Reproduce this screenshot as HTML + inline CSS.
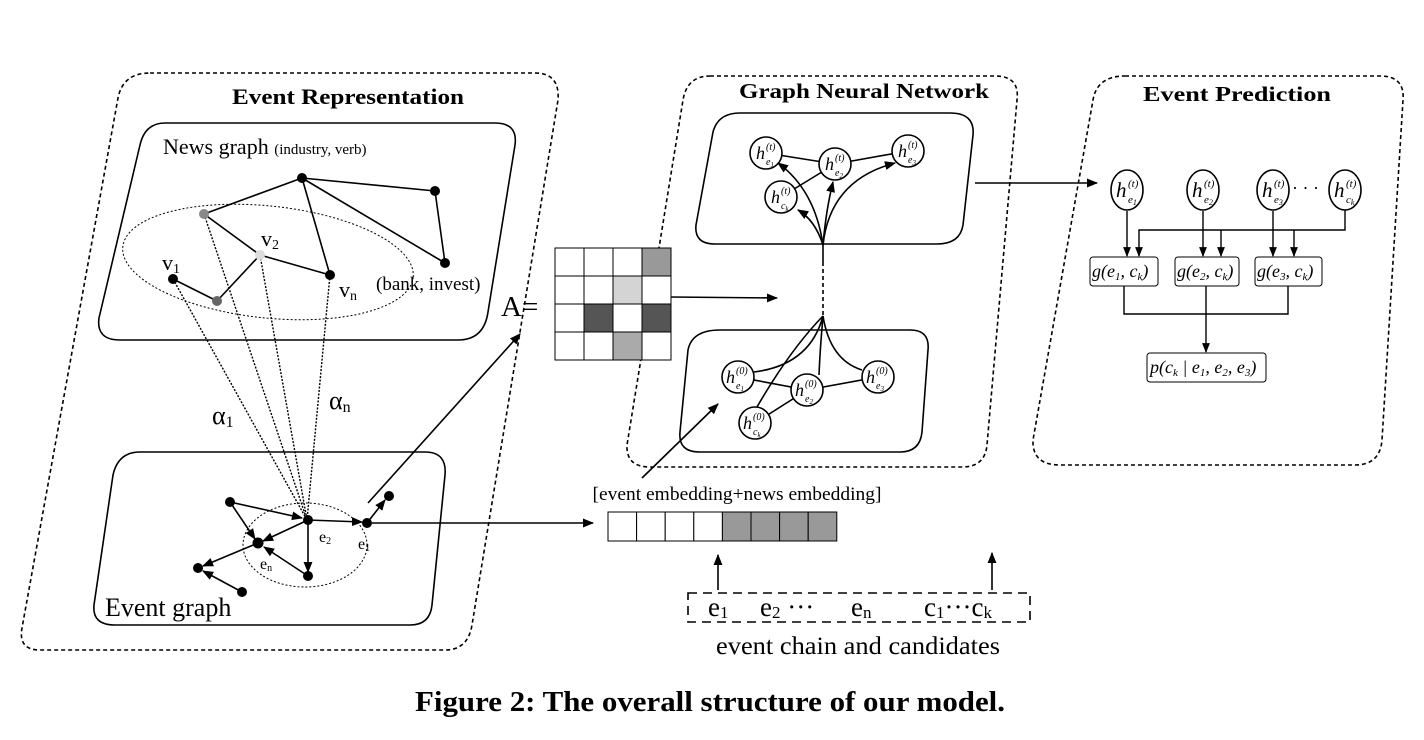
<!DOCTYPE html>
<html><head><meta charset="utf-8"><style>
html,body{margin:0;padding:0;background:#fff;}
svg{display:block;}
text{font-family:"Liberation Serif",serif;fill:#000;}
.m{font-style:italic;}
</style></head><body>
<svg width="1424" height="740" viewBox="0 0 1424 740" xmlns="http://www.w3.org/2000/svg">
<defs>
<marker id="ar" viewBox="0 0 10 10" refX="9" refY="5" markerWidth="7" markerHeight="7" orient="auto-start-reverse"><path d="M0,1 L10,5 L0,9 Z" fill="#000"/></marker>
</defs>
<g fill="none" stroke="#000">
<path d="M150,73 L535,73 Q560,73 558,100 L472,625 Q468,650 445,650 L40,650 Q18,650 22,628 L118,98 Q123,73 150,73 Z" stroke-width="1.6" stroke-dasharray="4,3"/>
<path d="M710,76 L995,76 Q1020,76 1017,100 L987,445 Q985,467 962,467 L650,467 Q626,467 627,445 L683,100 Q687,76 710,76 Z" stroke-width="1.6" stroke-dasharray="4,3"/>
<path d="M1125,76 L1380,76 Q1405,76 1403,100 L1382,440 Q1380,465 1355,465 L1060,465 Q1032,465 1033,440 L1093,100 Q1097,76 1125,76 Z" stroke-width="1.6" stroke-dasharray="4,3"/>
<path d="M165,123 L495,123 Q518,123 515,145 L488,312 Q484,340 458,340 L120,340 Q96,340 99,318 L140,145 Q145,123 165,123 Z" stroke-width="1.6"/>
<path d="M165,452 L425,452 Q447,452 445,475 L432,605 Q430,625 410,625 L115,625 Q92,625 94,605 L113,475 Q118,452 140,452 Z" stroke-width="1.6"/>
<path d="M740,113 L950,113 Q975,113 973,135 L963,225 Q960,244 937,244 L715,244 Q694,244 696,225 L713,132 Q718,113 740,113 Z" stroke-width="1.6"/>
<path d="M720,330 L910,330 Q930,330 928,350 L922,432 Q920,452 900,452 L700,452 Q678,452 680,432 L688,350 Q692,330 720,330 Z" stroke-width="1.6"/>

<ellipse cx="268" cy="262" rx="146" ry="56" transform="rotate(6 268 262)" stroke-width="1" stroke-dasharray="2,2"/>
<g stroke-width="1.6">
<line x1="302" y1="178" x2="435" y2="191"/><line x1="302" y1="178" x2="445" y2="263"/>
<line x1="435" y1="191" x2="445" y2="263"/><line x1="302" y1="178" x2="330" y2="275"/>
<line x1="302" y1="178" x2="204" y2="214"/><line x1="204" y1="214" x2="260" y2="255"/>
<line x1="260" y1="255" x2="330" y2="275"/><line x1="173" y1="279" x2="217" y2="301"/>
<line x1="217" y1="301" x2="260" y2="255"/>
</g>
<g stroke-width="1.4" stroke-dasharray="2,1.5">
<line x1="204" y1="214" x2="307" y2="520"/><line x1="173" y1="279" x2="307" y2="520"/>
<line x1="260" y1="255" x2="307" y2="520"/><line x1="330" y1="275" x2="307" y2="520"/>
</g>
<ellipse cx="305" cy="545" rx="62" ry="42" stroke-width="1" stroke-dasharray="2,2"/>
<g stroke-width="1.6">
<line x1="230" y1="502" x2="302" y2="518" marker-end="url(#ar)"/>
<line x1="230" y1="502" x2="255" y2="539" marker-end="url(#ar)"/>
<line x1="308" y1="520" x2="263" y2="541" marker-end="url(#ar)"/>
<line x1="308" y1="520" x2="308" y2="572" marker-end="url(#ar)"/>
<line x1="308" y1="576" x2="264" y2="547" marker-end="url(#ar)"/>
<line x1="258" y1="543" x2="203" y2="566" marker-end="url(#ar)"/>
<line x1="242" y1="592" x2="203" y2="571" marker-end="url(#ar)"/>
<line x1="308" y1="520" x2="362" y2="522" marker-end="url(#ar)"/>
<line x1="367" y1="523" x2="385" y2="500" marker-end="url(#ar)"/>
<line x1="368" y1="503" x2="520" y2="334" marker-end="url(#ar)"/>
<line x1="372" y1="523" x2="593" y2="523" marker-end="url(#ar)"/>
<line x1="670" y1="297" x2="777" y2="298" marker-end="url(#ar)"/>
<line x1="642" y1="478" x2="718" y2="404" marker-end="url(#ar)"/>
<line x1="718" y1="590" x2="718" y2="555" marker-end="url(#ar)"/>
<line x1="992" y1="590" x2="992" y2="553" marker-end="url(#ar)"/>
<line x1="975" y1="183" x2="1097" y2="183" marker-end="url(#ar)"/>
</g>
</g>
<g fill="#000">
<circle cx="302" cy="178" r="5"/><circle cx="435" cy="191" r="5"/><circle cx="445" cy="263" r="5"/>
<circle cx="330" cy="275" r="5"/><circle cx="173" cy="279" r="5"/>
<circle cx="204" cy="214" r="5" fill="#888"/><circle cx="260" cy="255" r="5" fill="#ddd"/><circle cx="217" cy="301" r="5" fill="#666"/>
<circle cx="308" cy="520" r="5"/><circle cx="367" cy="523" r="5"/><circle cx="389" cy="496" r="5"/>
<circle cx="230" cy="502" r="5"/><circle cx="258" cy="543" r="5.5"/><circle cx="308" cy="576" r="5"/>
<circle cx="198" cy="568" r="5"/><circle cx="242" cy="592" r="5"/>
</g>
<g stroke="#000" stroke-width="1">
<rect x="555" y="248" width="29" height="28" fill="#fff"/><rect x="584" y="248" width="29" height="28" fill="#fff"/><rect x="613" y="248" width="29" height="28" fill="#fff"/><rect x="642" y="248" width="29" height="28" fill="#999"/>
<rect x="555" y="276" width="29" height="28" fill="#fff"/><rect x="584" y="276" width="29" height="28" fill="#fff"/><rect x="613" y="276" width="29" height="28" fill="#d4d4d4"/><rect x="642" y="276" width="29" height="28" fill="#fff"/>
<rect x="555" y="304" width="29" height="28" fill="#fff"/><rect x="584" y="304" width="29" height="28" fill="#555"/><rect x="613" y="304" width="29" height="28" fill="#fff"/><rect x="642" y="304" width="29" height="28" fill="#555"/>
<rect x="555" y="332" width="29" height="28" fill="#fff"/><rect x="584" y="332" width="29" height="28" fill="#fff"/><rect x="613" y="332" width="29" height="28" fill="#aaa"/><rect x="642" y="332" width="29" height="28" fill="#fff"/>
</g>
<g stroke="#000" stroke-width="1">
<rect x="608" y="512" width="28.6" height="29" fill="#fff"/><rect x="636.6" y="512" width="28.6" height="29" fill="#fff"/><rect x="665.2" y="512" width="28.6" height="29" fill="#fff"/><rect x="693.8" y="512" width="28.6" height="29" fill="#fff"/>
<rect x="722.4" y="512" width="28.6" height="29" fill="#999"/><rect x="751" y="512" width="28.6" height="29" fill="#999"/><rect x="779.6" y="512" width="28.6" height="29" fill="#999"/><rect x="808.2" y="512" width="28.6" height="29" fill="#999"/>
<rect x="688" y="593" width="342" height="29" fill="none" stroke-width="1.6" stroke-dasharray="9,6"/>
</g>
<g fill="none" stroke="#000" stroke-width="1.6">
<line x1="766" y1="153" x2="835" y2="164"/><line x1="835" y1="164" x2="908" y2="151"/><line x1="781" y1="197" x2="835" y2="164"/>
<path d="M823,245 Q815,190 778,163" marker-end="url(#ar)"/>
<path d="M823,245 Q815,220 798,210" marker-end="url(#ar)"/>
<path d="M823,245 Q826,210 833,182" marker-end="url(#ar)"/>
<path d="M823,245 Q830,180 895,163" marker-end="url(#ar)"/>
<line x1="823" y1="245" x2="823" y2="262"/>
<line x1="823" y1="262" x2="823" y2="316" stroke-dasharray="4,3"/>
<line x1="738" y1="377" x2="807" y2="390"/><line x1="807" y1="390" x2="878" y2="377"/><line x1="755" y1="423" x2="807" y2="390"/>
<path d="M823,316 Q810,365 754,372"/>
<path d="M823,316 Q820,350 819,375"/>
<path d="M823,316 Q790,350 757,407"/>
<path d="M823,316 Q830,360 862,370"/>
<g stroke-width="1.4">
<line x1="1127" y1="211" x2="1127" y2="256" marker-end="url(#ar)"/>
<line x1="1203" y1="211" x2="1203" y2="256" marker-end="url(#ar)"/>
<line x1="1273" y1="211" x2="1273" y2="256" marker-end="url(#ar)"/>
<polyline points="1345,208 1345,230 1139,230 1139,256" marker-end="url(#ar)"/>
<line x1="1221" y1="230" x2="1221" y2="256" marker-end="url(#ar)"/>
<line x1="1294" y1="230" x2="1294" y2="256" marker-end="url(#ar)"/>
<polyline points="1124,286 1124,314 1288,314 1288,286"/>
<line x1="1206" y1="286" x2="1206" y2="352" marker-end="url(#ar)"/>
</g>
<g stroke-width="1">
<rect x="1090" y="257" width="68" height="29" rx="3"/><rect x="1175" y="257" width="64" height="29" rx="3"/><rect x="1255" y="257" width="67" height="29" rx="3"/>
<rect x="1147" y="353" width="119" height="29" rx="3"/>
</g>
</g>
<g fill="#fff" stroke="#000" stroke-width="1.6">
<circle cx="766" cy="153" r="16"/><circle cx="835" cy="164" r="16"/><circle cx="908" cy="151" r="16"/><circle cx="781" cy="197" r="16"/>
<circle cx="738" cy="377" r="16"/><circle cx="807" cy="390" r="16"/><circle cx="878" cy="377" r="16"/><circle cx="755" cy="423" r="16"/>
<ellipse cx="1127" cy="190" rx="16" ry="20"/><ellipse cx="1203" cy="190" rx="16" ry="20"/><ellipse cx="1273" cy="190" rx="16" ry="20"/><ellipse cx="1345" cy="190" rx="16" ry="20"/>
</g>
<g font-size="18">
<text x="756" y="159" class="m">h</text><text x="766" y="150" font-size="10" class="m">(t)</text><text x="766" y="165" font-size="10" class="m">e<tspan font-size="7" dy="2">1</tspan></text>
<text x="825" y="170" class="m">h</text><text x="835" y="161" font-size="10" class="m">(t)</text><text x="835" y="176" font-size="10" class="m">e<tspan font-size="7" dy="2">2</tspan></text>
<text x="898" y="157" class="m">h</text><text x="908" y="148" font-size="10" class="m">(t)</text><text x="908" y="163" font-size="10" class="m">e<tspan font-size="7" dy="2">3</tspan></text>
<text x="771" y="203" class="m">h</text><text x="781" y="194" font-size="10" class="m">(t)</text><text x="781" y="209" font-size="10" class="m">c<tspan font-size="7" dy="2">k</tspan></text>
<text x="726" y="383" class="m">h</text><text x="736" y="374" font-size="10" class="m">(0)</text><text x="736" y="389" font-size="10" class="m">e<tspan font-size="7" dy="2">1</tspan></text>
<text x="795" y="396" class="m">h</text><text x="805" y="387" font-size="10" class="m">(0)</text><text x="805" y="402" font-size="10" class="m">e<tspan font-size="7" dy="2">2</tspan></text>
<text x="866" y="383" class="m">h</text><text x="876" y="374" font-size="10" class="m">(0)</text><text x="876" y="389" font-size="10" class="m">e<tspan font-size="7" dy="2">3</tspan></text>
<text x="743" y="429" class="m">h</text><text x="753" y="420" font-size="10" class="m">(0)</text><text x="753" y="435" font-size="10" class="m">c<tspan font-size="7" dy="2">k</tspan></text>
<text x="1116" y="197" class="m" font-size="21">h</text><text x="1128" y="187" font-size="11" class="m">(t)</text><text x="1128" y="203" font-size="11" class="m">e<tspan font-size="8" dy="2">1</tspan></text>
<text x="1192" y="197" class="m" font-size="21">h</text><text x="1204" y="187" font-size="11" class="m">(t)</text><text x="1204" y="203" font-size="11" class="m">e<tspan font-size="8" dy="2">2</tspan></text>
<text x="1262" y="197" class="m" font-size="21">h</text><text x="1274" y="187" font-size="11" class="m">(t)</text><text x="1274" y="203" font-size="11" class="m">e<tspan font-size="8" dy="2">3</tspan></text>
<text x="1334" y="197" class="m" font-size="21">h</text><text x="1346" y="187" font-size="11" class="m">(t)</text><text x="1346" y="203" font-size="11" class="m">c<tspan font-size="8" dy="2">k</tspan></text>
</g>
<text x="1292" y="194" font-size="18">· · ·</text>
<g font-size="18">
<text x="1092" y="277" class="m">g(e<tspan font-size="11" dy="3">1</tspan><tspan dy="-3">, c</tspan><tspan font-size="11" dy="3">k</tspan><tspan dy="-3">)</tspan></text>
<text x="1177" y="277" class="m">g(e<tspan font-size="11" dy="3">2</tspan><tspan dy="-3">, c</tspan><tspan font-size="11" dy="3">k</tspan><tspan dy="-3">)</tspan></text>
<text x="1257" y="277" class="m">g(e<tspan font-size="11" dy="3">3</tspan><tspan dy="-3">, c</tspan><tspan font-size="11" dy="3">k</tspan><tspan dy="-3">)</tspan></text>
<text x="1150" y="373" class="m">p(c<tspan font-size="11" dy="3">k</tspan><tspan dy="-3"> | e</tspan><tspan font-size="11" dy="3">1</tspan><tspan dy="-3">, e</tspan><tspan font-size="11" dy="3">2</tspan><tspan dy="-3">, e</tspan><tspan font-size="11" dy="3">3</tspan><tspan dy="-3">)</tspan></text>
</g>
<text x="348" y="104" font-size="22" font-weight="bold" text-anchor="middle" textLength="232" lengthAdjust="spacingAndGlyphs">Event Representation</text>
<text x="864" y="98" font-size="21" font-weight="bold" text-anchor="middle" textLength="250" lengthAdjust="spacingAndGlyphs">Graph Neural Network</text>
<text x="1237" y="101" font-size="21" font-weight="bold" text-anchor="middle" textLength="188" lengthAdjust="spacingAndGlyphs">Event Prediction</text>
<text x="163" y="154" font-size="22">News graph <tspan font-size="15">(industry, verb)</tspan></text>
<text x="376" y="290" font-size="19">(bank, invest)</text>
<text x="162" y="270" font-size="22">v<tspan font-size="14" dy="3">1</tspan></text>
<text x="261" y="246" font-size="22">v<tspan font-size="14" dy="3">2</tspan></text>
<text x="339" y="297" font-size="22">v<tspan font-size="14" dy="3">n</tspan></text>
<text x="212" y="424" font-size="26">α<tspan font-size="16" dy="3">1</tspan></text>
<text x="329" y="409" font-size="26">α<tspan font-size="16" dy="3">n</tspan></text>
<text x="319" y="542" font-size="16">e<tspan font-size="10" dy="2">2</tspan></text>
<text x="358" y="549" font-size="16">e<tspan font-size="10" dy="2">1</tspan></text>
<text x="260" y="569" font-size="16">e<tspan font-size="10" dy="2">n</tspan></text>
<text x="105" y="616" font-size="26">Event graph</text>
<text x="501" y="316" font-size="29">A=</text>
<text x="737" y="500" font-size="19" text-anchor="middle" textLength="289" lengthAdjust="spacingAndGlyphs">[event embedding+news embedding]</text>
<text x="708" y="616" font-size="27">e<tspan font-size="17" dy="2">1</tspan></text>
<text x="760" y="616" font-size="27">e<tspan font-size="17" dy="2">2</tspan><tspan dy="-2"> ···</tspan></text>
<text x="851" y="616" font-size="27">e<tspan font-size="17" dy="2">n</tspan></text>
<text x="924" y="616" font-size="27">c<tspan font-size="17" dy="2">1</tspan><tspan dy="-2">···c</tspan><tspan font-size="17" dy="2">k</tspan></text>
<text x="858" y="654" font-size="25" text-anchor="middle" textLength="284" lengthAdjust="spacingAndGlyphs">event chain and candidates</text>
<text x="710" y="711" font-size="29" font-weight="bold" text-anchor="middle" textLength="590" lengthAdjust="spacingAndGlyphs">Figure 2: The overall structure of our model.</text>
</svg>
</body></html>
